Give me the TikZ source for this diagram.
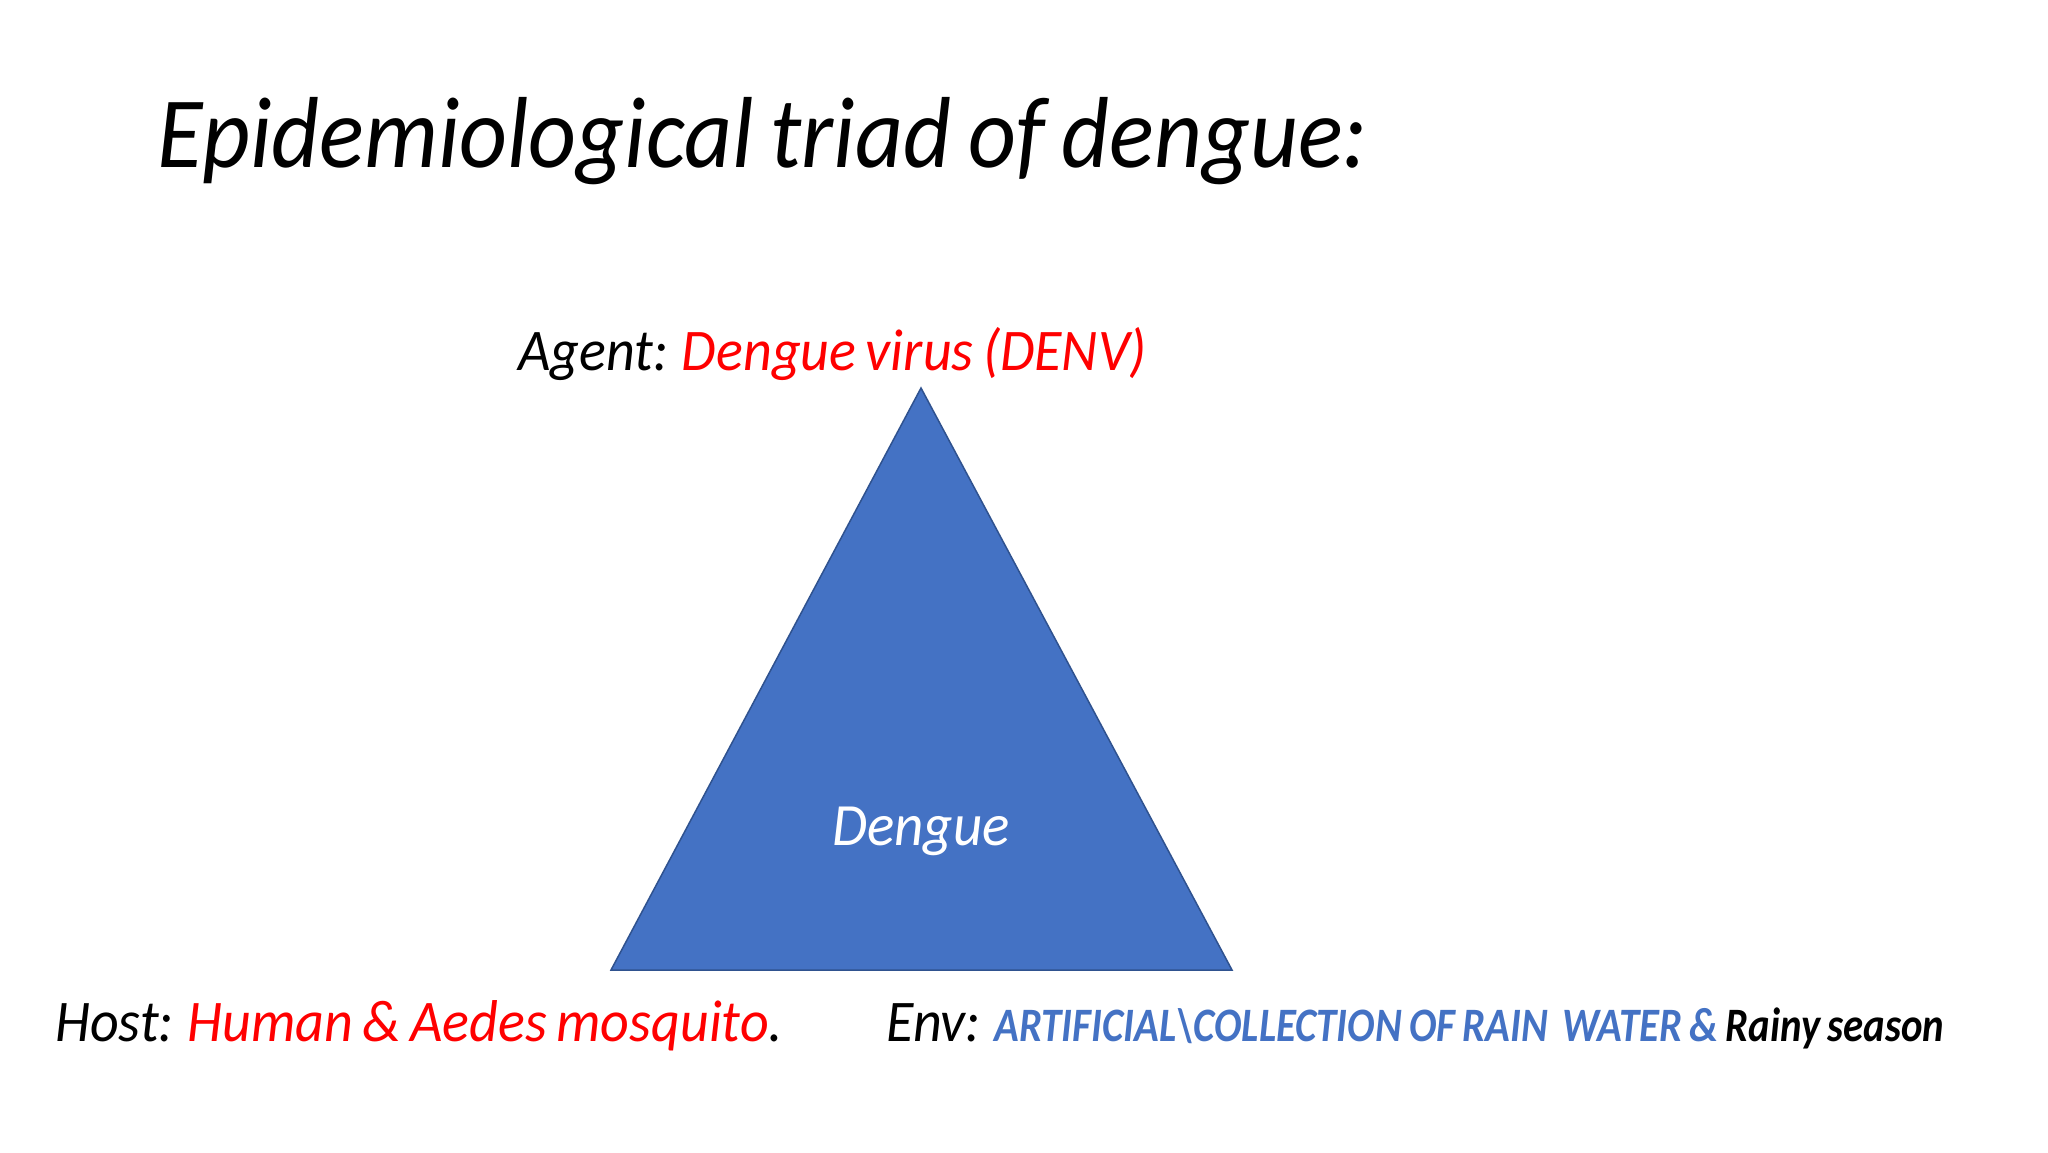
\documentclass[tikz,border=0pt]{standalone}
\usepackage{fontspec}
\setmainfont{Carlito}
\newfontfamily\titlefont[FakeStretch=0.925, WordSpace=0.8]{Carlito}
\newfontfamily\lblfont[FakeStretch=0.95, WordSpace=0.75]{Carlito}
\newfontfamily\envfont[FakeStretch=0.85, WordSpace=0.8]{Carlito}
\definecolor{triblue}{HTML}{4472C4}
\definecolor{triedge}{HTML}{2F528F}
\definecolor{redtxt}{HTML}{FF0000}
\tikzset{
  lbl/.style={inner sep=0pt, anchor=base west},
  bigtxt/.style={font=\lblfont\fontsize{59}{70}\selectfont\itshape},
}
\begin{document}
\begin{tikzpicture}[x=1pt,y=-1pt]
\fill[white] (0,0) rectangle (2048,1152);
\useasboundingbox (0,0) rectangle (2048,1152);
\node[lbl, font=\titlefont\fontsize{101}{120}\selectfont\itshape] (title) at (157,167) {Epidemiological triad of dengue:};
\coordinate (apex) at (921,388);
\coordinate (bl) at (611,970);
\coordinate (br) at (1232,970);
\filldraw[fill=triblue, draw=triedge, line width=1.5pt] (apex) -- (bl) -- (br) -- cycle;
\node[inner sep=0pt, text=white, font=\lblfont\fontsize{60}{70}\selectfont\itshape, anchor=base] (center) at (921,845) {Dengue};
\node[lbl, bigtxt] (agent) at (518,370) {Agent: \textcolor{redtxt}{Dengue virus (DENV)}};
\node[lbl, bigtxt] (host) at (55,1041) {Host: \textcolor{redtxt}{Human \& Aedes mosquito}.};
\node[lbl, bigtxt] (env) at (886,1041) {Env: {\envfont\fontsize{48}{60}\selectfont\bfseries\itshape\textcolor{triblue}{ARTIFICIAL\textbackslash COLLECTION OF RAIN\ \ WATER \&} Rainy season}};
\end{tikzpicture}
\end{document}
